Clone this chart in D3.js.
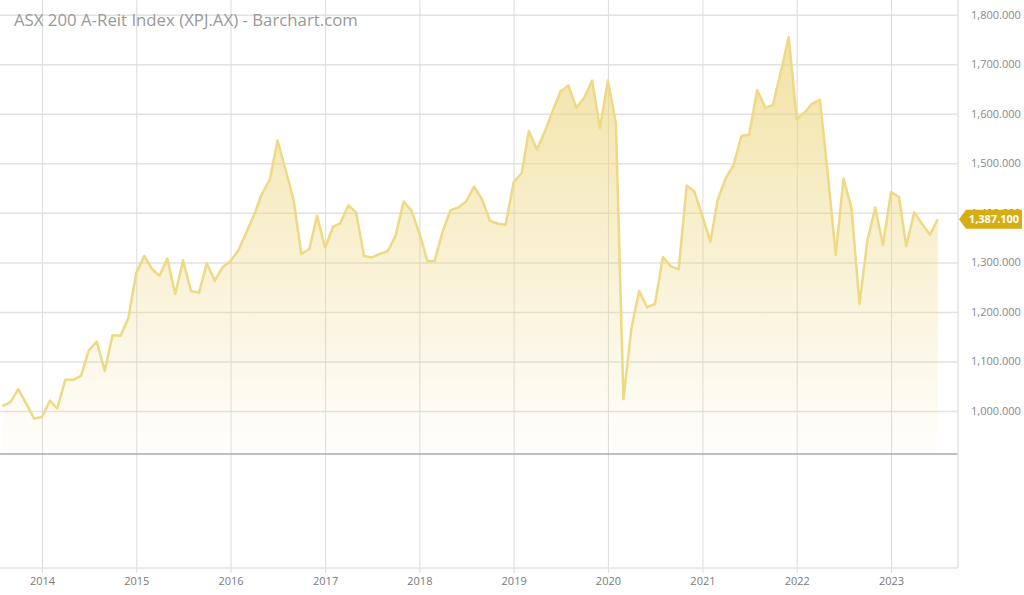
<!DOCTYPE html>
<html>
<head>
<meta charset="utf-8">
<script src="https://cdn.jsdelivr.net/npm/d3@7"></script>
<style>
  html, body { margin: 0; padding: 0; background: #fff; }
  svg { display: block; font-family: 'Open Sans', sans-serif; }
</style>
</head>
<body>
<div class="svg-container"></div>
<script>
const title = 'ASX 200 A-Reit Index (XPJ.AX) - Barchart.com'
const firstMonth = '2013-08'
// monthly closes, Aug 2013 .. Jul 2023
const closes = [
  1010, 1018, 1044, 1015, 985,
  988, 1021, 1005, 1063, 1063, 1071, 1122, 1140, 1081, 1153, 1152, 1187,
  1279, 1313, 1288, 1273, 1308, 1236, 1304, 1242, 1239, 1298, 1263, 1290,
  1303, 1325, 1359, 1396, 1438, 1467, 1546, 1487, 1426, 1317, 1327, 1394,
  1330, 1372, 1379, 1415, 1401, 1313, 1310, 1317, 1323, 1354, 1423, 1405,
  1359, 1303, 1303, 1362, 1405, 1411, 1423, 1453, 1427, 1384, 1378, 1376,
  1462, 1480, 1565, 1528, 1563, 1605, 1645, 1657, 1612, 1632, 1667, 1571,
  1667, 1581, 1024, 1167, 1242, 1209, 1216, 1311, 1292, 1286, 1455, 1443,
  1393, 1342, 1426, 1470, 1496, 1555, 1558, 1648, 1612, 1618, 1686, 1755,
  1589, 1603, 1620, 1628, 1480, 1315, 1469, 1410, 1216, 1342, 1411, 1335,
  1442, 1432, 1333, 1401, 1378, 1356, 1387.1
]
const yearTicks = [2014, 2015, 2016, 2017, 2018, 2019, 2020, 2021, 2022, 2023]
const priceTicks = [1000, 1100, 1200, 1300, 1400, 1500, 1600, 1700, 1800]
const lastPrice = 1387.1

const width = 1024
const height = 595
const plotRight = 958
const priceBottom = 454
const paneBottom = 568

const start = d3.timeParse('%Y-%m')(firstMonth)
const data = closes.map((v, i) => ({ date: d3.timeMonth.offset(start, i), value: v }))

const x = d3.scaleTime([new Date(2014, 0, 1), new Date(2023, 0, 1)], [42, 891])
const y = d3.scaleLinear([1000, 1800], [411, 14.7])

const svg = d3.select('.svg-container')
  .append('svg')
  .attr('width', width)
  .attr('height', height)

const defs = svg.append('defs')
const grad = defs.append('linearGradient')
  .attr('id', 'fill')
  .attr('gradientUnits', 'userSpaceOnUse')
  .attr('x1', 0).attr('x2', 0)
  .attr('y1', 14).attr('y2', priceBottom)
grad.append('stop').attr('offset', 0).attr('stop-color', '#ecd478').attr('stop-opacity', 0.7)
grad.append('stop').attr('offset', 1).attr('stop-color', '#ecd478').attr('stop-opacity', 0.02)

// horizontal grid
svg.append('g')
  .attr('transform', `translate(${plotRight},0)`)
  .call(d3.axisRight(y).tickValues(priceTicks).tickSize(-plotRight).tickFormat(''))
  .call(g => g.select('.domain').remove())
  .call(g => g.selectAll('line').attr('stroke', '#e2e2e2').attr('stroke-width', 1.5))

// vertical grid
svg.append('g')
  .attr('transform', `translate(0,${paneBottom + 5})`)
  .call(d3.axisBottom(x).tickValues(yearTicks.map(yr => new Date(yr, 0, 1))).tickSize(-(paneBottom + 5)).tickFormat(''))
  .call(g => g.select('.domain').remove())
  .call(g => g.selectAll('line').attr('stroke', '#dcdcdc').attr('stroke-width', 1))

// area + line
const area = d3.area()
  .x(d => x(d.date))
  .y0(priceBottom)
  .y1(d => y(d.value))
svg.append('path')
  .datum(data)
  .attr('d', area)
  .attr('fill', 'url(#fill)')

const line = d3.line()
  .x(d => x(d.date))
  .y(d => y(d.value))
svg.append('path')
  .datum(data)
  .attr('d', line)
  .attr('fill', 'none')
  .attr('stroke', '#eed985')
  .attr('stroke-width', 2.5)
  .attr('stroke-linejoin', 'round')

// pane borders
svg.append('line')
  .attr('x1', 0).attr('x2', plotRight)
  .attr('y1', priceBottom).attr('y2', priceBottom)
  .attr('stroke', '#aaaaaa').attr('stroke-width', 1.5)
svg.append('line')
  .attr('x1', 0).attr('x2', plotRight)
  .attr('y1', paneBottom).attr('y2', paneBottom)
  .attr('stroke', '#e2e2e2').attr('stroke-width', 1.5)
svg.append('line')
  .attr('x1', plotRight).attr('x2', plotRight)
  .attr('y1', 0).attr('y2', paneBottom)
  .attr('stroke', '#e2e2e2').attr('stroke-width', 1.5)

// x labels
svg.append('g')
  .attr('transform', `translate(0,${paneBottom})`)
  .call(d3.axisBottom(x).tickValues(yearTicks.map(yr => new Date(yr, 0, 1))).tickSize(0).tickPadding(9).tickFormat(d3.timeFormat('%Y')))
  .call(g => g.select('.domain').remove())
  .call(g => g.selectAll('text')
    .attr('fill', '#7a7a7a')
    .style('font-size', '11px')
    .style('font-family', "'Open Sans', sans-serif"))

// y labels
svg.append('g')
  .attr('transform', `translate(${plotRight},0)`)
  .call(d3.axisRight(y).tickValues(priceTicks).tickSize(0).tickPadding(13).tickFormat(d3.format(',.3f')))
  .call(g => g.select('.domain').remove())
  .call(g => g.selectAll('text')
    .attr('fill', '#888')
    .style('font-size', '11px')
    .style('font-family', "'Open Sans', sans-serif"))

// last price marker
const ly = y(lastPrice)
const marker = svg.append('g').attr('transform', `translate(${plotRight + 1},${ly})`)
marker.append('path')
  .attr('d', 'M0,0 L7,-9.5 L63,-9.5 L63,9.5 L7,9.5 Z')
  .attr('fill', '#d6ad12')
marker.append('text')
  .attr('x', 35)
  .attr('y', 4)
  .attr('text-anchor', 'middle')
  .attr('fill', '#fff')
  .style('font-size', '11px')
  .style('font-weight', 'bold')
  .text(d3.format(',.3f')(lastPrice))

// title
svg.append('text')
  .attr('x', 14)
  .attr('y', 26)
  .attr('fill', '#999')
  .style('font-size', '16.8px')
  .text(title)
</script>
</body>
</html>
